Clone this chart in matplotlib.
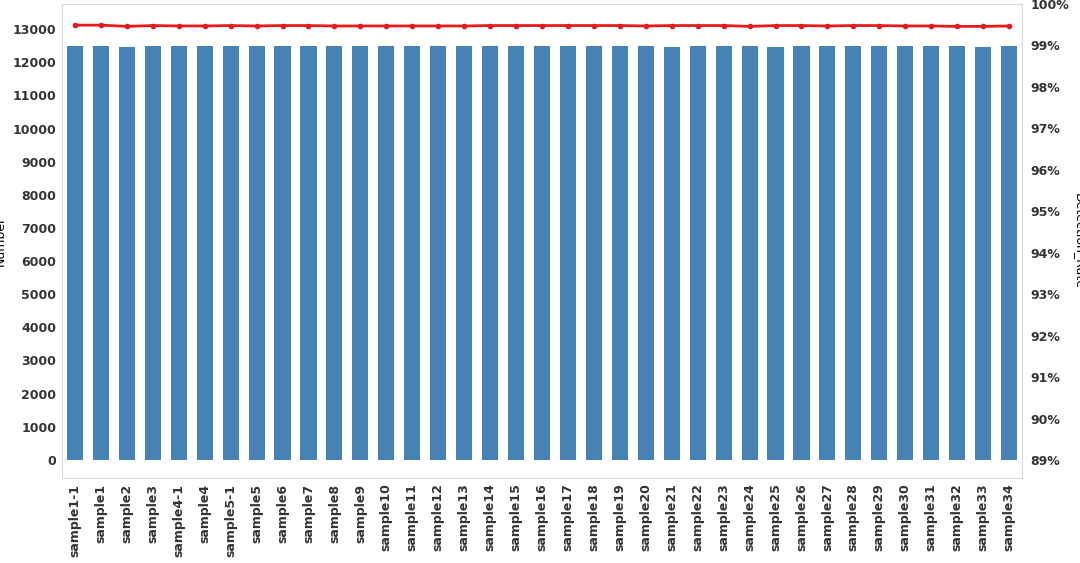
import matplotlib.pyplot as plt
from matplotlib.ticker import FuncFormatter

samples = ["sample1-1", "sample1", "sample2", "sample3", "sample4-1", "sample4",
           "sample5-1", "sample5"] + [f"sample{i}" for i in range(6, 35)]
numbers = [12480, 12500, 12450, 12480, 12480, 12480, 12480, 12480, 12480, 12480,
           12480, 12480, 12480, 12480, 12480, 12480, 12480, 12480, 12480, 12480,
           12480, 12480, 12480, 12450, 12480, 12480, 12480, 12450, 12480, 12480,
           12480, 12480, 12480, 12480, 12480, 12460, 12480]
rates = [99.49, 99.49, 99.46, 99.48, 99.47, 99.47, 99.48, 99.47, 99.48, 99.48,
         99.47, 99.47, 99.47, 99.47, 99.47, 99.47, 99.48, 99.48, 99.48, 99.48,
         99.48, 99.48, 99.47, 99.48, 99.48, 99.48, 99.46, 99.48, 99.48, 99.47,
         99.48, 99.48, 99.47, 99.47, 99.46, 99.46, 99.47]

fig = plt.figure(figsize=(10.8, 5.63), dpi=100)
ax = fig.add_axes([62/1080, 1-478/563, 960/1080, 474/563])
x = range(len(samples))
ax.bar(x, numbers, width=0.62, color="#4682B4")
ax.set_xlim(-0.5, len(samples) - 0.5)
ax.set_ylim(-550, 13760)
ax.set_yticks(range(0, 13001, 1000))
ax.set_xticks(list(x))
ax.set_xticklabels(samples, rotation=90, fontweight="bold", color="#333333", fontsize=9)
for t in ax.get_yticklabels():
    t.set_fontweight("bold"); t.set_color("#333333"); t.set_fontsize(9)
ax.set_ylabel("Number", fontsize=9)
ax.tick_params(length=0, pad=4)
for s in ax.spines.values():
    s.set_color("#d8d8d8")

ax2 = ax.twinx()
ax2.plot(x, rates, color="#e41a1c", lw=2, marker="o", ms=3)
ax2.set_ylim(89 - 18/41.45, 100)
ax2.set_yticks(range(89, 101))
ax2.yaxis.set_major_formatter(FuncFormatter(lambda v, p: f"{v:.0f}%"))
for t in ax2.get_yticklabels():
    t.set_fontweight("bold"); t.set_color("#333333"); t.set_fontsize(9)
ax2.tick_params(length=0, pad=6)
ax2.set_ylabel("Detection_Rate", rotation=270, labelpad=12, fontsize=9)
for s in ax2.spines.values():
    s.set_visible(False)

fig.savefig("out.png", dpi=100)
